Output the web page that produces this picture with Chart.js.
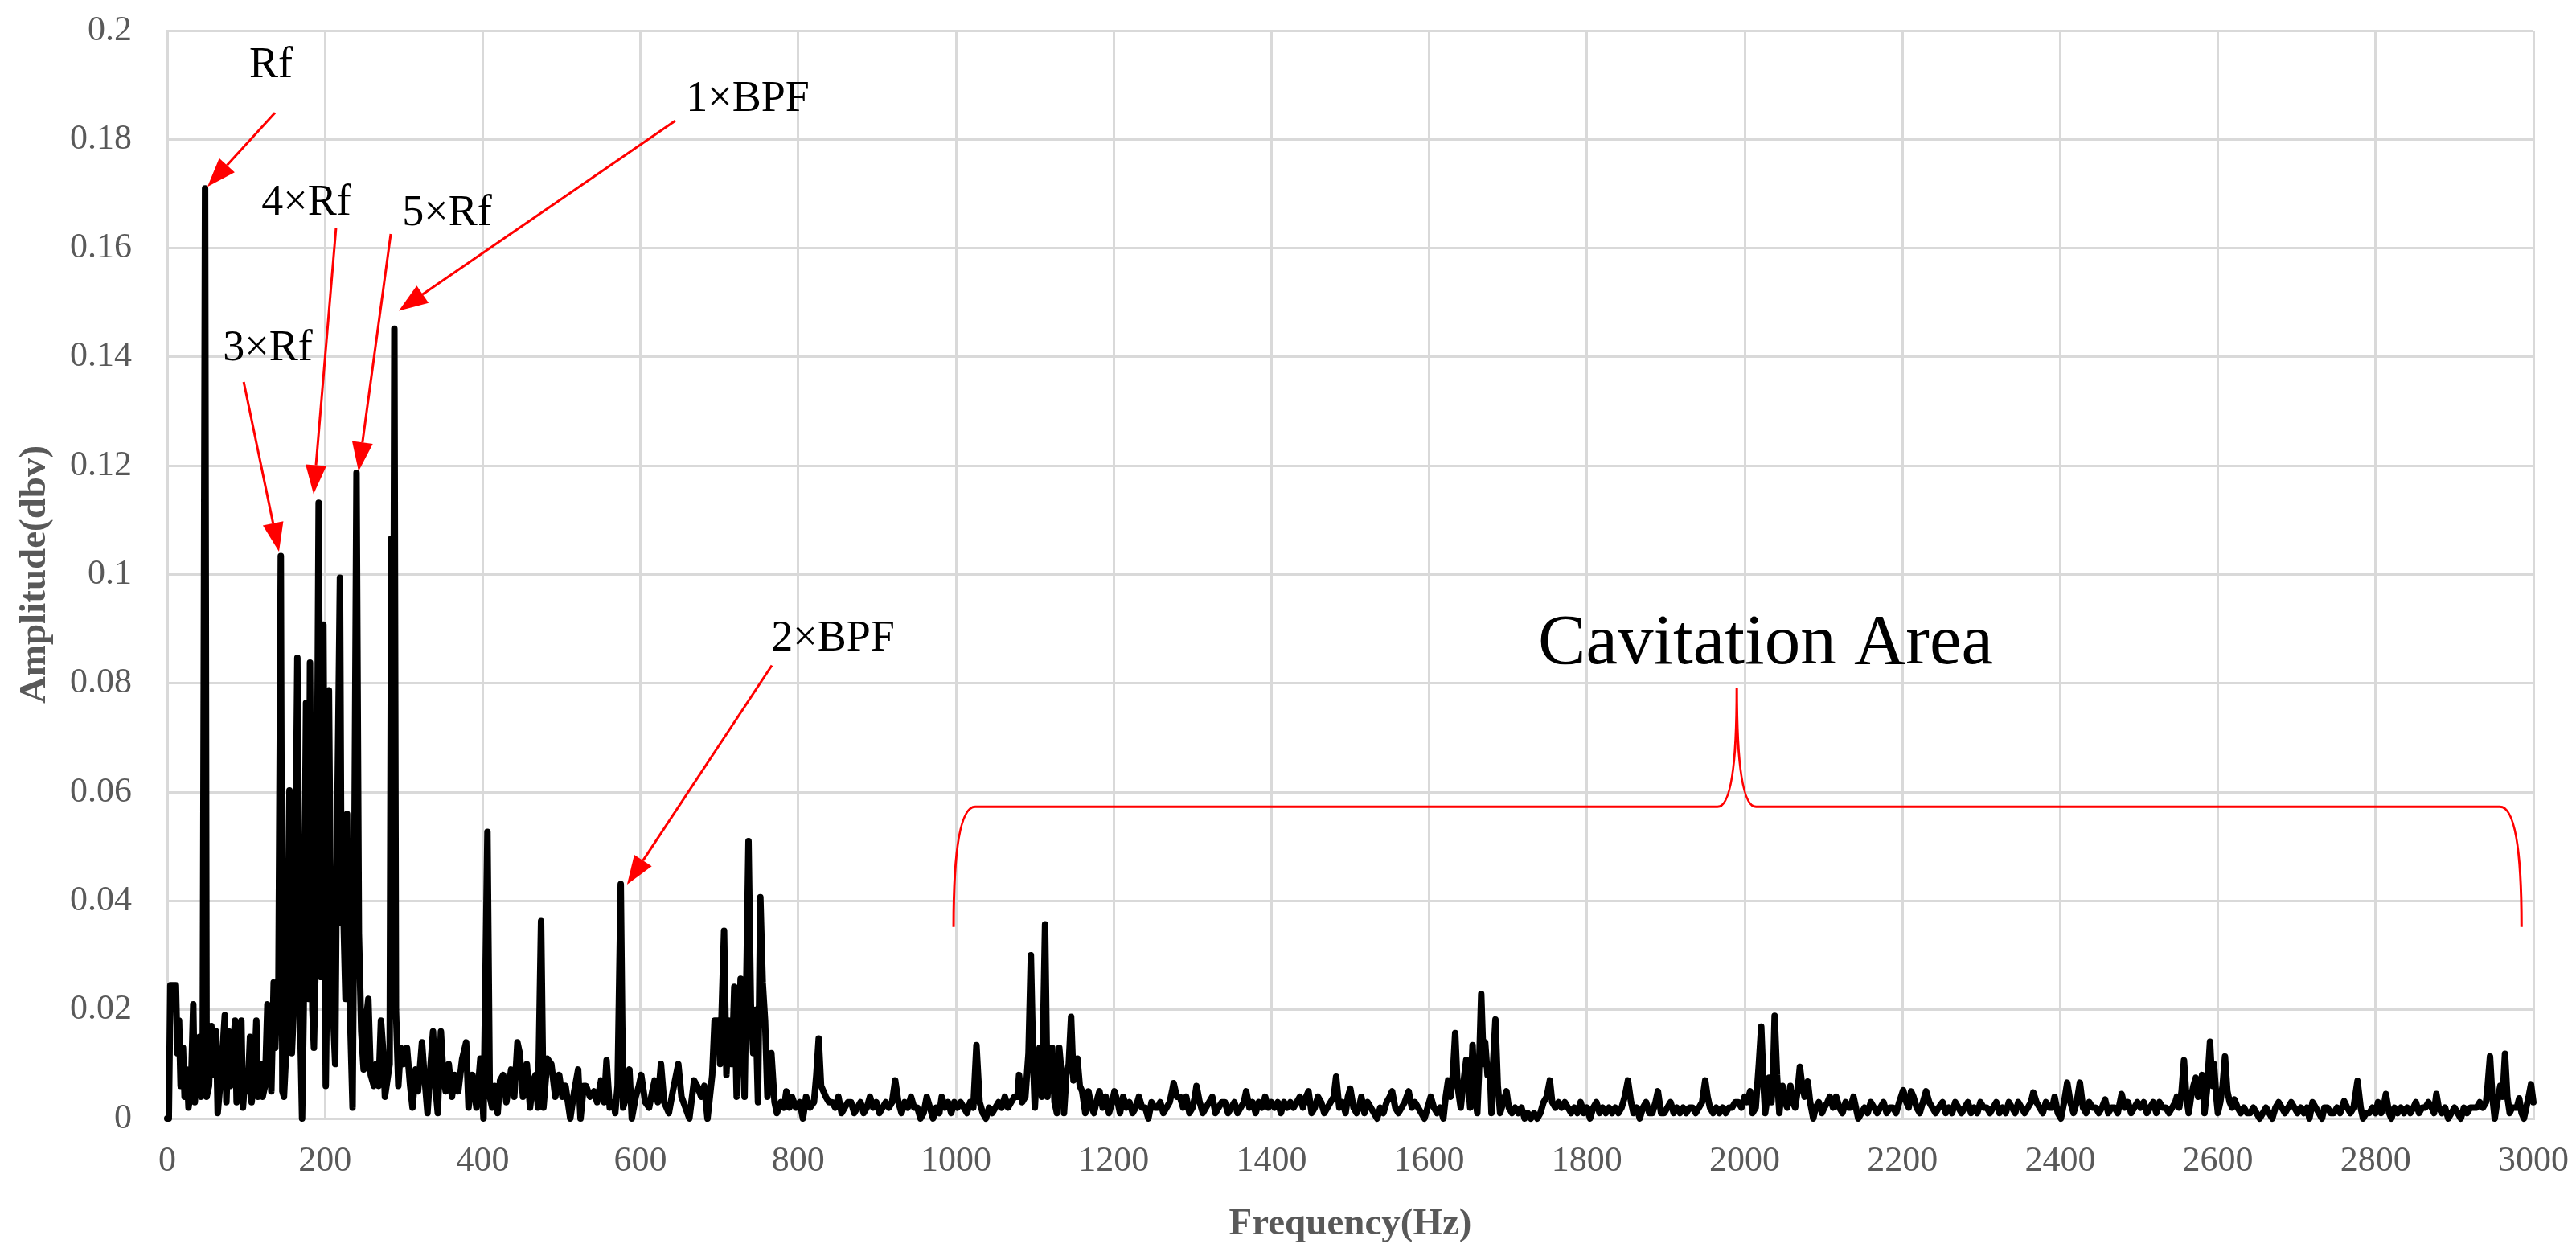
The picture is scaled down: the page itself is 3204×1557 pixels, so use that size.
<!DOCTYPE html>
<html>
<head>
<meta charset="utf-8">
<script src="https://cdn.jsdelivr.net/npm/chart.js@4.4.1/dist/chart.umd.min.js"></script>
<style>
  html, body { margin: 0; padding: 0; background: #ffffff; }
  #wrap { width: 3204px; height: 1557px; }
</style>
</head>
<body>
<div id="wrap"><canvas id="c" width="3204" height="1557"></canvas></div>
<script>
// ---- Spectrum data: [frequency (Hz), amplitude (dbv)] ----
const bandLow = [
  [0,0.0],[2,0.0],[4,0.0245],[7,0.0245],[11,0.0245],[13,0.012],[15,0.018],[17,0.006],[20,0.013],[22,0.004],
  [25,0.009],[27,0.002],[30,0.005],[33,0.021],[35,0.003],[38,0.010],[41,0.015],[43,0.004],[45,0.012],[48,0.171],
  [50,0.004],[53,0.006],[56,0.017],[59,0.008],[62,0.016],[64,0.001],[67,0.006],[70,0.012],[73,0.019],[75,0.003],
  [78,0.016],[80,0.006],[83,0.012],[86,0.018],[88,0.003],[91,0.009],[94,0.018],[96,0.002],[99,0.008],[102,0.005],
  [105,0.015],[107,0.003],[110,0.007],[113,0.018],[115,0.004],[118,0.010],[121,0.004],[124,0.006],[127,0.021],
  [130,0.020],[132,0.005],[135,0.025],[137,0.013],[139,0.021],[141,0.025],[144,0.1034],[146,0.005],[148,0.004],
  [151,0.013],[155,0.0603],[158,0.012],[161,0.022],[165,0.0847],[168,0.022],[171,0.0],[173,0.020],[176,0.0764],
  [179,0.022],[181,0.0838],[184,0.020],[186,0.013],[189,0.035],[192,0.1132],[195,0.026],[198,0.0908],[201,0.006],
  [203,0.030],[205,0.0787],[208,0.025],[210,0.020],[213,0.010],[215,0.047],[219,0.0994],[221,0.036],[223,0.040],
  [226,0.022],[228,0.056],[230,0.028],[232,0.018],[235,0.002],[237,0.041],[240,0.1187],[243,0.034],[246,0.016],
  [249,0.009],[252,0.018],[255,0.022],[258,0.008],[262,0.006],[265,0.010],[268,0.006],[271,0.018],[274,0.012],
  [276,0.004],[280,0.008],[282,0.010],[284,0.1066],[286,0.030],[288,0.1452],[290,0.020],[293,0.006]
];
const bandMid = [
  [296,0.013],[300,0.010],[304,0.013],[308,0.006],[311,0.002],[315,0.009],[318,0.005],[323,0.014],[326,0.008],
  [330,0.001],[334,0.010],[337,0.016],[340,0.006],[343,0.001],[347,0.016],[350,0.008],[353,0.005],[357,0.010],
  [361,0.004],[365,0.008],[369,0.005],[374,0.011],[379,0.014],[382,0.002],[387,0.008],[392,0.002],[397,0.011],
  [401,0.000],[406,0.0527],[409,0.004],[412,0.002],[415,0.006],[419,0.001],[422,0.007],[426,0.008],[430,0.003],
  [436,0.009],[440,0.004],[444,0.014],[447,0.012],[451,0.004],[456,0.010],[460,0.002],[464,0.007],[467,0.008],
  [470,0.002],[474,0.0363],[477,0.002],[482,0.011],[487,0.010],[492,0.004],[497,0.008],[501,0.004],[505,0.006],
  [511,0.000],[516,0.005],[521,0.009],[524,0.000],[528,0.006],[531,0.006],[536,0.004],[541,0.005],[545,0.003],
  [550,0.007],[554,0.003],[557,0.0107],[561,0.002],[566,0.003],[568,0.001],[571,0.006],[575,0.0431],[578,0.002],
  [582,0.004],[586,0.009],[589,0.000],[594,0.004],[598,0.006],[601,0.008],[606,0.003],[611,0.002],[615,0.005],
  [618,0.007],[622,0.003],[626,0.010],[630,0.003],[636,0.001],[641,0.005],[648,0.010],[652,0.004],[657,0.002],
  [662,0.000],[668,0.007],[672,0.006],[677,0.004],[681,0.006],[685,0.000],[688,0.004],[691,0.008],[694,0.018],
  [698,0.018],[701,0.010],[706,0.0345],[709,0.008],[712,0.018],[716,0.010],[719,0.0242],[722,0.004],[724,0.012],
  [727,0.0257],[732,0.004],[737,0.051],[740,0.021],[743,0.012],[746,0.020],[749,0.003],[752,0.0407],[755,0.025],
  [758,0.018],[761,0.004],[766,0.012],[770,0.003],[773,0.001],[778,0.003],[782,0.002],[785,0.005],[789,0.002],
  [792,0.004],[797,0.002],[802,0.003],[806,0.000],[810,0.004],[815,0.002]
];
const bandCav1 = [
  [820,0.003],[823,0.008],[826,0.0147],[829,0.006],[832,0.005],[835,0.004],[839,0.003],[843,0.003],[847,0.002],
  [851,0.004],[855,0.001],[859,0.002],[863,0.003],[867,0.003],[871,0.001],[875,0.002],[879,0.003],[883,0.001],
  [887,0.002],[891,0.004],[895,0.002],[899,0.003],[903,0.001],[907,0.002],[911,0.003],[915,0.002],[919,0.003],
  [923,0.007],[927,0.003],[931,0.001],[935,0.003],[939,0.002],[943,0.004],[947,0.002],[951,0.002],[955,0.000],
  [959,0.001],[963,0.004],[967,0.002],[971,0.000],[975,0.002],[979,0.001],[982,0.004],[986,0.002],[990,0.003],
  [994,0.001],[998,0.003],[1002,0.002],[1006,0.003],[1010,0.002],[1014,0.001],[1018,0.003],[1022,0.002],
  [1026,0.0135],[1030,0.003],[1034,0.001],[1038,0.000],[1042,0.002],[1046,0.001],[1050,0.002],[1054,0.003],
  [1058,0.002],[1062,0.004],[1066,0.002],[1070,0.003],[1074,0.004],[1078,0.004],[1080,0.008],[1084,0.003],
  [1088,0.004],[1092,0.012],[1095,0.030],[1098,0.010],[1100,0.002],[1103,0.010],[1106,0.013],[1109,0.004],
  [1113,0.0357],[1116,0.004],[1119,0.010],[1122,0.013],[1125,0.003],[1128,0.001],[1131,0.013],[1134,0.008],
  [1137,0.001],[1140,0.008],[1143,0.010],[1146,0.0187],[1149,0.007],[1152,0.008],[1154,0.011],[1157,0.006],
  [1160,0.005],[1164,0.001],[1168,0.005],[1172,0.002],[1175,0.001],[1178,0.003],[1182,0.005],[1186,0.002],
  [1190,0.004],[1194,0.001],[1198,0.003],[1201,0.005],[1205,0.003],[1208,0.001],[1212,0.004],[1216,0.002],
  [1220,0.003],[1224,0.001],[1228,0.002],[1232,0.004],[1236,0.002],[1240,0.002],[1244,0.000],[1248,0.003],
  [1252,0.002],[1256,0.002],[1259,0.003],[1263,0.001],[1267,0.002],[1271,0.003],[1274,0.005],[1276,0.0065],
  [1280,0.004],[1284,0.004],[1288,0.002],[1292,0.004],[1296,0.001],[1300,0.002],[1303,0.004],[1305,0.006],
  [1309,0.003],[1313,0.001],[1317,0.002],[1321,0.003],[1325,0.004],[1329,0.001],[1333,0.002],[1337,0.003],
  [1341,0.003],[1345,0.001],[1349,0.002],[1353,0.003],[1357,0.001],[1361,0.002],[1365,0.003],[1368,0.005],
  [1372,0.002]
];
const bandCav2 = [
  [1376,0.003],[1380,0.001],[1384,0.003],[1388,0.002],[1392,0.004],[1396,0.002],[1400,0.003],[1404,0.002],
  [1408,0.003],[1412,0.001],[1416,0.003],[1420,0.002],[1424,0.003],[1428,0.002],[1432,0.003],[1436,0.004],
  [1440,0.002],[1444,0.004],[1447,0.005],[1451,0.001],[1455,0.002],[1459,0.004],[1463,0.003],[1467,0.001],
  [1471,0.002],[1475,0.003],[1479,0.004],[1482,0.0077],[1486,0.002],[1490,0.003],[1494,0.001],[1497,0.004],
  [1500,0.0055],[1504,0.002],[1508,0.001],[1511,0.002],[1514,0.004],[1518,0.001],[1522,0.003],[1526,0.002],
  [1530,0.001],[1534,0.000],[1538,0.002],[1542,0.001],[1546,0.003],[1550,0.004],[1553,0.005],[1557,0.002],
  [1561,0.001],[1565,0.002],[1569,0.003],[1574,0.005],[1578,0.002],[1582,0.003],[1586,0.002],[1590,0.001],
  [1594,0.000],[1598,0.002],[1602,0.004],[1606,0.002],[1610,0.001],[1614,0.002],[1618,0.000],[1621,0.004],
  [1624,0.007],[1627,0.004],[1630,0.008],[1633,0.0157],[1636,0.006],[1640,0.002],[1643,0.006],[1647,0.0108],
  [1650,0.006],[1652,0.002],[1655,0.0135],[1658,0.004],[1661,0.001],[1663,0.008],[1666,0.0229],[1669,0.010],
  [1671,0.014],[1674,0.008],[1677,0.009],[1679,0.001],[1681,0.010],[1684,0.0182],[1687,0.006],[1690,0.001],
  [1694,0.003],[1698,0.005],[1701,0.002],[1705,0.001],[1709,0.002],[1713,0.001],[1717,0.002],[1721,0.000],
  [1725,0.001],[1729,0.000],[1733,0.001],[1737,0.000],[1741,0.001],[1745,0.003],[1749,0.004],[1753,0.007],
  [1756,0.003],[1760,0.002],[1764,0.003],[1768,0.002],[1772,0.003],[1776,0.002],[1780,0.001],[1784,0.002],
  [1788,0.001],[1792,0.003],[1796,0.001],[1800,0.002],[1804,0.000],[1808,0.002],[1812,0.003],[1816,0.001],
  [1820,0.002],[1824,0.001],[1828,0.002],[1832,0.001],[1836,0.002],[1840,0.001],[1844,0.002],[1848,0.004],
  [1852,0.007],[1856,0.003],[1859,0.001],[1863,0.002],[1867,0.000],[1871,0.002],[1875,0.003],[1879,0.001],
  [1883,0.001],[1887,0.003],[1890,0.005],[1894,0.001],[1898,0.001],[1902,0.002],[1906,0.003],[1910,0.001],
  [1914,0.002],[1918,0.001],[1922,0.002],[1926,0.001],[1930,0.002],[1934,0.002],[1938,0.001],[1942,0.002],
  [1946,0.003],[1950,0.007],[1953,0.004]
];
const bandCav3 = [
  [1956,0.002],[1960,0.001],[1964,0.002],[1968,0.001],[1972,0.002],[1976,0.001],[1980,0.002],[1984,0.002],
  [1988,0.003],[1992,0.003],[1996,0.002],[2000,0.004],[2003,0.003],[2007,0.005],[2010,0.001],[2014,0.002],
  [2018,0.010],[2021,0.0169],[2024,0.006],[2026,0.001],[2029,0.004],[2031,0.0075],[2034,0.003],[2036,0.008],
  [2038,0.0189],[2041,0.008],[2044,0.001],[2046,0.004],[2048,0.006],[2051,0.003],[2054,0.002],[2058,0.006],
  [2061,0.003],[2064,0.002],[2067,0.005],[2070,0.0095],[2073,0.006],[2076,0.004],[2080,0.0068],[2083,0.003],
  [2087,0.000],[2090,0.002],[2094,0.003],[2098,0.001],[2101,0.002],[2105,0.003],[2108,0.004],[2112,0.002],
  [2116,0.004],[2120,0.002],[2124,0.001],[2128,0.003],[2131,0.002],[2134,0.002],[2138,0.004],[2141,0.002],
  [2144,0.000],[2148,0.001],[2152,0.002],[2156,0.001],[2160,0.003],[2164,0.002],[2168,0.001],[2172,0.002],
  [2176,0.003],[2180,0.001],[2184,0.002],[2188,0.002],[2192,0.001],[2196,0.003],[2201,0.0052],[2205,0.003],
  [2208,0.002],[2211,0.005],[2214,0.004],[2218,0.002],[2222,0.001],[2226,0.003],[2230,0.005],[2234,0.003],
  [2238,0.002],[2242,0.001],[2246,0.002],[2251,0.003],[2255,0.001],[2259,0.002],[2263,0.001],[2267,0.003],
  [2271,0.002],[2275,0.001],[2279,0.002],[2283,0.003],[2287,0.001],[2291,0.002],[2295,0.001],[2299,0.003],
  [2303,0.002],[2307,0.002],[2311,0.001],[2315,0.002],[2319,0.003],[2323,0.001],[2327,0.002],[2331,0.001],
  [2335,0.003],[2339,0.002],[2343,0.001],[2347,0.003],[2351,0.002],[2355,0.001],[2359,0.002],[2363,0.003],
  [2366,0.0048],[2370,0.003],[2374,0.002],[2378,0.001],[2382,0.003],[2386,0.002],[2390,0.002],[2393,0.004],
  [2397,0.001],[2401,0.000],[2405,0.003],[2409,0.0066],[2413,0.003],[2417,0.001],[2421,0.003],[2425,0.0066],
  [2429,0.002],[2433,0.001],[2437,0.003],[2441,0.002],[2445,0.002],[2449,0.001],[2453,0.002],[2457,0.0035],
  [2461,0.001],[2465,0.002],[2469,0.002],[2473,0.001],[2478,0.0045],[2482,0.002],[2486,0.003],[2490,0.001],
  [2494,0.002],[2498,0.003]
];
const bandCav4 = [
  [2502,0.002],[2506,0.003],[2510,0.001],[2514,0.002],[2518,0.003],[2522,0.001],[2526,0.003],[2530,0.002],
  [2534,0.002],[2538,0.001],[2542,0.002],[2546,0.003],[2548,0.004],[2551,0.002],[2554,0.005],[2557,0.0107],
  [2560,0.004],[2563,0.001],[2566,0.004],[2569,0.006],[2572,0.0075],[2575,0.004],[2578,0.005],[2580,0.008],
  [2583,0.001],[2586,0.005],[2590,0.0141],[2593,0.006],[2595,0.010],[2598,0.004],[2600,0.001],[2603,0.003],
  [2606,0.006],[2609,0.0114],[2612,0.005],[2615,0.003],[2618,0.002],[2621,0.0035],[2625,0.002],[2629,0.001],
  [2633,0.002],[2637,0.001],[2641,0.001],[2645,0.002],[2649,0.001],[2653,0.000],[2657,0.001],[2661,0.002],
  [2665,0.001],[2669,0.000],[2673,0.002],[2677,0.003],[2681,0.002],[2685,0.001],[2689,0.002],[2693,0.003],
  [2697,0.002],[2701,0.001],[2705,0.002],[2709,0.001],[2713,0.002],[2716,0.000],[2720,0.003],[2724,0.002],
  [2728,0.001],[2732,0.000],[2735,0.002],[2739,0.002],[2743,0.001],[2747,0.001],[2751,0.002],[2755,0.001],
  [2760,0.0032],[2764,0.002],[2768,0.001],[2772,0.002],[2777,0.0069],[2781,0.002],[2784,0.000],[2788,0.001],
  [2792,0.001],[2796,0.002],[2800,0.001],[2803,0.003],[2807,0.001],[2810,0.002],[2813,0.0045],[2817,0.001],
  [2820,0.000],[2824,0.002],[2828,0.001],[2832,0.002],[2836,0.001],[2840,0.002],[2844,0.001],[2848,0.002],
  [2851,0.003],[2855,0.001],[2859,0.002],[2863,0.002],[2867,0.003],[2871,0.002],[2874,0.001],[2877,0.0045],
  [2880,0.002],[2884,0.001],[2888,0.002],[2892,0.000],[2896,0.001],[2900,0.002],[2904,0.001],[2908,0.000],
  [2912,0.002],[2916,0.001],[2920,0.002],[2924,0.002],[2928,0.002],[2932,0.003],[2936,0.002],[2940,0.003],
  [2942,0.006],[2945,0.0114],[2948,0.004],[2951,0.000],[2954,0.003],[2958,0.006],[2961,0.004],[2964,0.0119],
  [2967,0.004],[2970,0.001],[2973,0.002],[2976,0.002],[2979,0.002],[2982,0.0037],[2985,0.001],[2988,0.000],
  [2991,0.002],[2994,0.004],[2997,0.0063],[3000,0.003]
];

// ---- Axis ----
const xTitle = 'Frequency(Hz)';
const yTitle = 'Amplitude(dbv)';

// ---- Annotations (data coordinates: [frequency, amplitude]) ----
const peakLabels  = ['Rf', '3×Rf', '4×Rf', '5×Rf', '1×BPF', '2×BPF'];
const labelAt     = [[131.5,0.1915],[127.4,0.1394],[176.4,0.1661],[354.7,0.1642],[736,0.1852],[844,0.0860]];
const arrowFrom   = [[136.6,0.1849],[97,0.1354],[214,0.1637],[283.4,0.1626],[644,0.1834],[766.6,0.0833]];
const arrowTo     = [[51,0.1713],[141.7,0.1042],[185.5,0.1148],[242.6,0.1190],[293.6,0.1485],[583,0.0430]];
const regionLabel = 'Cavitation Area';
const regionLabelAt = [2026.5, 0.0836];
const braceStart = 997, braceMid = 1990, braceEnd = 2985;  // Hz
const braceLevel = 0.0573, braceFoot = 0.0352, braceTip = 0.0792; // amplitude

const spectrum = [].concat(bandLow, bandMid, bandCav1, bandCav2, bandCav3, bandCav4)
  .map(p => ({x: p[0], y: p[1]}));

const annotate = {
  id: 'annotate',
  afterDatasetsDraw(chart) {
    const {ctx, scales: {x, y}} = chart;
    const P = (f, v) => [x.getPixelForValue(f), y.getPixelForValue(v)];
    ctx.save();
    ctx.strokeStyle = '#ff0000';
    ctx.fillStyle = '#ff0000';
    ctx.lineWidth = 3;
    const headLen = 36, headHalf = 13;
    for (let i = 0; i < arrowFrom.length; i++) {
      const [x0, y0] = P(arrowFrom[i][0], arrowFrom[i][1]);
      const [x1, y1] = P(arrowTo[i][0], arrowTo[i][1]);
      const ang = Math.atan2(y1 - y0, x1 - x0);
      const bx = x1 - headLen * Math.cos(ang), by = y1 - headLen * Math.sin(ang);
      ctx.beginPath(); ctx.moveTo(x0, y0); ctx.lineTo(bx, by); ctx.stroke();
      ctx.beginPath();
      ctx.moveTo(x1, y1);
      ctx.lineTo(bx + headHalf * Math.sin(ang), by - headHalf * Math.cos(ang));
      ctx.lineTo(bx - headHalf * Math.sin(ang), by + headHalf * Math.cos(ang));
      ctx.closePath(); ctx.fill();
    }
    const [lx, fy] = P(braceStart, braceFoot);
    const [rx] = P(braceEnd, braceFoot);
    const [mx, hy] = P(braceMid, braceLevel);
    const [, ty] = P(braceMid, braceTip);
    const r = 27, m = 24;
    ctx.beginPath();
    ctx.moveTo(lx, fy);
    ctx.quadraticCurveTo(lx, hy, lx + r, hy);
    ctx.lineTo(mx - m, hy);
    ctx.quadraticCurveTo(mx, hy, mx, ty);
    ctx.quadraticCurveTo(mx, hy, mx + m, hy);
    ctx.lineTo(rx - r, hy);
    ctx.quadraticCurveTo(rx, hy, rx, fy);
    ctx.stroke();
    ctx.fillStyle = '#000000';
    ctx.textAlign = 'center';
    ctx.textBaseline = 'alphabetic';
    ctx.font = '54px "Liberation Serif", "Times New Roman", serif';
    for (let i = 0; i < peakLabels.length; i++) {
      const [px, py] = P(labelAt[i][0], labelAt[i][1]);
      ctx.fillText(peakLabels[i], px, py);
    }
    ctx.font = '89px "Liberation Serif", "Times New Roman", serif';
    const [cx, cy] = P(regionLabelAt[0], regionLabelAt[1]);
    ctx.fillText(regionLabel, cx, cy);
    ctx.restore();
  }
};

const tickFont = {family: '"Liberation Serif", "Times New Roman", serif', size: 44};
const titleFont = {family: '"Liberation Serif", "Times New Roman", serif', size: 47, weight: 'bold'};

new Chart(document.getElementById('c'), {
  type: 'line',
  data: {
    datasets: [{
      data: spectrum,
      borderColor: '#000000',
      borderWidth: 8,
      pointRadius: 0,
      tension: 0,
      borderJoinStyle: 'round',
      borderCapStyle: 'round',
      clip: false
    }]
  },
  options: {
    responsive: false,
    devicePixelRatio: 1,
    animation: false,
    layout: {padding: {top: 38, right: 53, bottom: 0, left: 0}},
    plugins: {legend: {display: false}, tooltip: {enabled: false}},
    scales: {
      x: {
        type: 'linear', min: 0, max: 3000,
        ticks: {stepSize: 200, color: '#595959', font: tickFont, padding: 27,
                maxRotation: 0, autoSkip: false, callback: v => String(v)},
        grid: {color: '#d9d9d9', lineWidth: 3, drawTicks: false},
        border: {display: true, color: '#d9d9d9', width: 3},
        title: {display: true, text: xTitle, color: '#595959', font: titleFont, padding: {top: 0, bottom: 6}},
        afterFit(s) { s.height = 166; s.paddingLeft = 0; s.paddingRight = 0; }
      },
      y: {
        type: 'linear', min: 0, max: 0.2,
        ticks: {stepSize: 0.02, color: '#595959', font: tickFont, padding: 44,
                callback: v => String(Number(v.toFixed(2)))},
        grid: {color: '#d9d9d9', lineWidth: 3, drawTicks: false},
        border: {display: true, color: '#d9d9d9', width: 3},
        title: {display: true, text: yTitle, color: '#595959', font: titleFont, padding: {top: 16, bottom: 0}},
        afterFit(s) { s.width = 208; s.paddingTop = 0; s.paddingBottom = 0; }
      }
    }
  },
  plugins: [annotate]
});
</script>
</body>
</html>
